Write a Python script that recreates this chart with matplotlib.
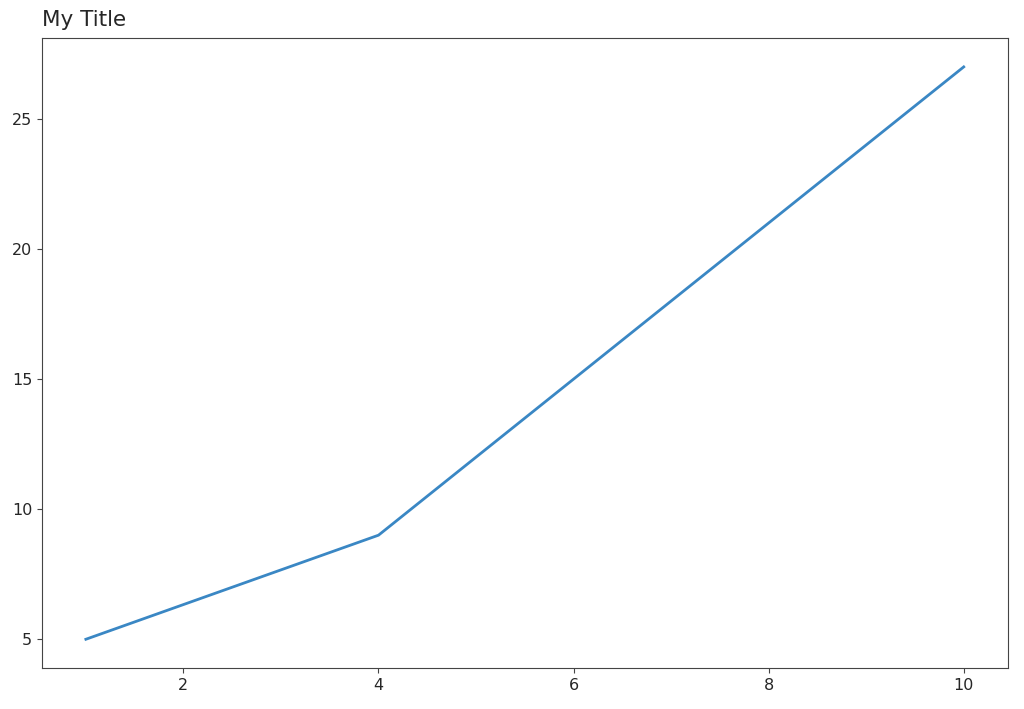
import matplotlib
matplotlib.use('Agg')
import matplotlib.pyplot as plt

# Datos
x_vals = [1, 4, 10]
y_vals = [5, 9, 27]
title = 'My Title'

plt.rcParams['text.color'] = '#262626'
plt.rcParams['xtick.labelcolor'] = '#262626'
plt.rcParams['ytick.labelcolor'] = '#262626'

fig = plt.figure(figsize=(10.24, 7.09), dpi=100)
ax = fig.add_axes([0.041, 0.058, 0.943, 0.888])
ax.plot(x_vals, y_vals, color='#3a87c4', linewidth=2)
ax.set_title(title, loc='left', fontsize=15.5, pad=9)
ax.tick_params(labelsize=11.5, color='#444444')
for s in ax.spines.values():
    s.set_color('#444444')
fig.savefig('out.png', dpi=100)
